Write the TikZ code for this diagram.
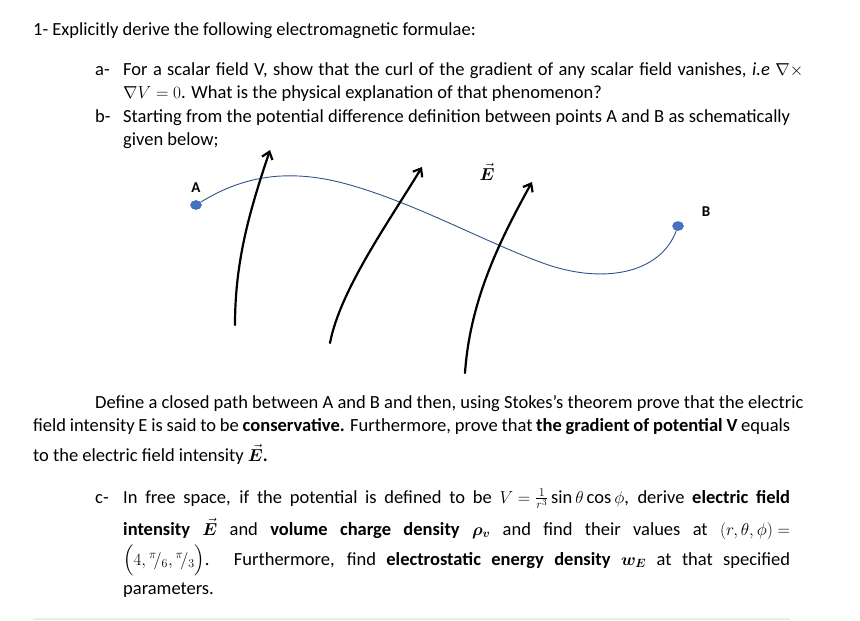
\documentclass[tikz,border=0pt]{standalone}
\usepackage{amsmath,bm}
\usepackage{fontspec}
\setmainfont{Carlito}
\definecolor{dotblue}{RGB}{68,114,196}
\definecolor{dotedge}{RGB}{47,82,143}
\tikzset{ln/.style={anchor=base west,inner sep=0pt,font=\fontsize{18.5}{22}\selectfont},
 farrow/.style={line width=2.2pt,-{Straight Barb[length=7pt,width=11pt]},line cap=round},
 dot/.style={ellipse,fill=dotblue,draw=dotedge,minimum width=11pt,minimum height=9pt,inner sep=0pt}}
\usetikzlibrary{arrows.meta,shapes.geometric}
\begin{document}
\thickmuskip=5mu\relax\medmuskip=4mu\relax
\begin{tikzpicture}[x=1pt,y=-1pt]
\useasboundingbox (0,0) rectangle (860,621);
\node[ln] (t1) at (33,35) {1- Explicitly derive the following electromagnetic formulae:};
\node[ln] (a) at (95,75) {a-};
\node[ln] (a1) at (123,75) {\hbox to 680pt{For a scalar field V, show that the curl of the gradient of any scalar field vanishes, \textit{i.e} $\nabla\times$}};
\node[ln] (a2) at (123,98) {$\nabla V=0$. What is the physical explanation of that phenomenon?};
\node[ln] (b) at (95,122) {b-};
\node[ln] (b1) at (123,122) {\hbox to 667pt{Starting from the potential difference definition between points A and B as schematically}};
\node[ln] (b2) at (123,145) {given below;};
% diagram
\node[dot] (A) at (196,205) {};
\node[dot] (B) at (678,226) {};
\node[ln,font=\fontsize{15}{17}\selectfont\bfseries,anchor=base] (la) at (196,192) {A};
\node[ln,font=\fontsize{15}{17}\selectfont\bfseries,anchor=base] (lb) at (706,216) {B};
\node[ln,anchor=base] (le) at (487,180) {$\vec{\bm{E}}$};
\draw[dotedge,line width=0.9pt] (A) .. controls (240,178) and (280,170) .. (330,180)
  .. controls (400,195) and (480,240) .. (540,262) .. controls (600,285) and (660,275) .. (B);
\coordinate (s1) at (235,325); \coordinate (e1) at (270,150);
\coordinate (s2) at (330,343); \coordinate (e2) at (422,167);
\coordinate (s3) at (465,373); \coordinate (e3) at (532,182);
\draw[farrow] (s1) .. controls (235,260) and (250,210) .. (e1);
\draw[farrow] (s2) .. controls (340,290) and (390,220) .. (e2);
\draw[farrow] (s3) .. controls (470,300) and (500,240) .. (e3);
% text
\node[ln] (d1) at (95,408) {Define a closed path between A and B and then, using Stokes’s theorem prove that the electric};
\node[ln] (d2) at (33,431) {\hbox to 757pt{field intensity E is said to be \textbf{conservative.} Furthermore, prove that \textbf{the gradient of potential V} equals}};
\node[ln] (d3) at (33,461) {to the electric field intensity $\vec{\bm{E}}$\textbf{.}};
\node[ln] (c) at (95,503) {c-};
\node[ln] (c1) at (123,503) {\hbox to 667pt{In free space, if the potential is defined to be $V=\frac{1}{r^3}\sin\theta\cos\phi$, derive \textbf{electric field}}};
\node[ln] (c2) at (123,535) {\hbox to 667pt{\textbf{intensity} $\vec{\bm{E}}$ and \textbf{volume charge density} $\bm{\rho_v}$ and find their values at $(r,\theta,\phi)=$}};
\node[ln] (c3) at (123,565) {\hbox to 667pt{$\Big(4,{}^{\pi}\!/_{6},{}^{\pi}\!/_{3}\Big)$. Furthermore, find \textbf{electrostatic energy density} $\bm{w_E}$ at that specified}};
\node[ln] (c4) at (123,594) {parameters.};
\draw[black!8,line width=2pt] (33,619) -- (790,619);
\end{tikzpicture}
\end{document}
